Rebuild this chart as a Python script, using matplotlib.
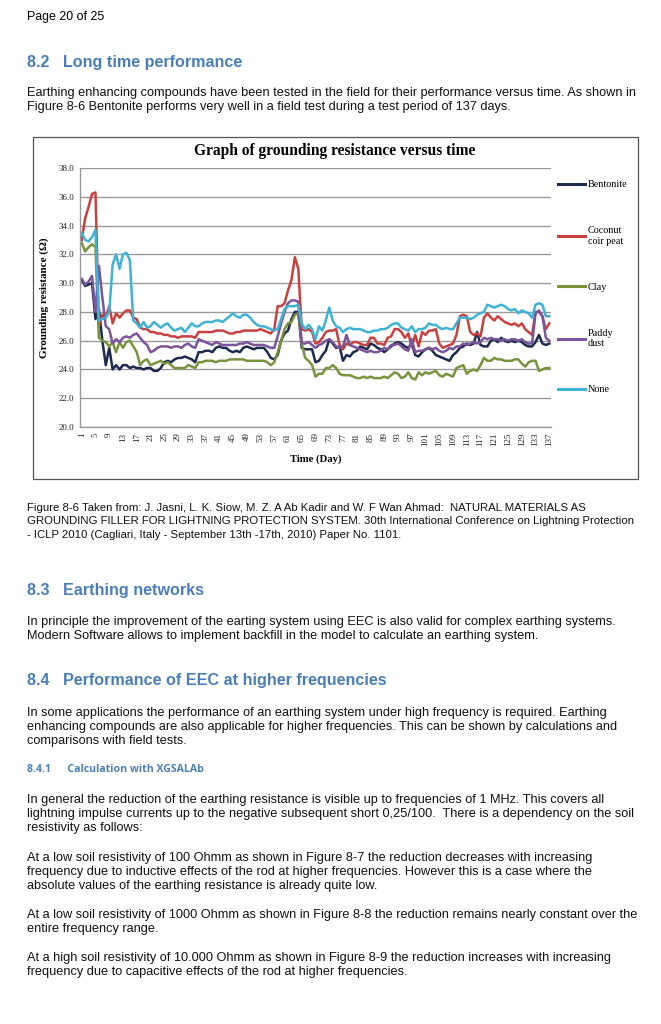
import matplotlib
matplotlib.use("Agg")
import matplotlib.pyplot as plt
from matplotlib.patches import Rectangle
import numpy as np

# grounding resistance (ohm), one value per day
bentonite = [
    30.2, 29.8, 29.9, 30.0, 27.5, 28.2, 26.0, 24.3, 25.5, 24.0,
    24.3, 24.0, 24.3, 24.3, 24.1, 24.2, 24.1, 24.1, 24.0, 24.1,
    24.1, 23.9, 23.9, 24.1, 24.5, 24.6, 24.5, 24.7, 24.8, 24.8,
    24.9, 24.8, 24.7, 24.5, 25.2, 25.2, 25.3, 25.3, 25.2, 25.5,
    25.6, 25.5, 25.5, 25.3, 25.2, 25.3, 25.2, 25.5, 25.6, 25.5,
    25.4, 25.5, 25.5, 25.5, 25.2, 24.8, 24.7, 25.0, 26.0, 26.5,
    26.7, 27.5, 28.0, 28.0, 25.5, 25.4, 25.4, 25.4, 24.5, 24.6,
    25.0, 25.3, 26.1, 25.8, 25.5, 25.6, 24.6, 25.0, 24.9, 25.2,
    25.3, 25.6, 25.5, 25.4, 25.8, 25.7, 25.5, 25.4, 25.2, 25.4,
    25.6, 25.8, 25.9, 25.8, 25.6, 25.5, 25.8, 25.0, 24.9, 25.2,
    25.4, 25.5, 25.3, 25.0, 24.9, 24.8, 24.7, 24.6, 25.0, 25.2,
    25.5, 25.6, 25.8, 25.7, 25.8, 26.6, 25.7, 25.6, 25.6, 26.0,
    26.1, 25.9, 26.2, 26.0, 25.9, 26.0, 25.9, 26.0, 25.9, 25.7,
    25.6, 25.6, 25.9, 26.4, 25.8, 25.7, 25.8]

coconut = [
    33.0, 34.5, 35.3, 36.2, 36.3, 27.0, 27.8, 27.6, 28.4, 27.2,
    27.9, 27.6, 27.9, 28.1, 28.1, 27.6, 27.5, 26.9, 26.8, 26.8,
    26.6, 26.6, 26.5, 26.5, 26.4, 26.4, 26.3, 26.3, 26.2, 26.3,
    26.3, 26.3, 26.3, 26.2, 26.6, 26.6, 26.6, 26.6, 26.6, 26.7,
    26.7, 26.7, 26.6, 26.5, 26.5, 26.6, 26.6, 26.7, 26.7, 26.7,
    26.7, 26.7, 26.8, 26.7, 26.6, 26.5, 26.8, 28.4, 28.4, 28.6,
    29.5, 30.2, 31.8, 31.0, 26.8, 26.7, 26.8, 26.6, 25.8, 25.9,
    26.2, 26.6, 26.7, 26.7, 26.8, 25.7, 25.4, 25.8, 25.7, 25.9,
    25.9, 25.8, 25.7, 25.7, 26.2, 26.2, 25.8, 25.8, 25.7, 26.2,
    26.3, 26.8, 26.8, 26.6, 26.2, 26.5, 25.6, 26.4, 25.6, 26.6,
    26.4, 26.7, 26.7, 26.8, 25.8, 25.5, 25.6, 25.7, 25.8, 26.4,
    27.7, 27.8, 27.7, 26.6, 26.4, 26.5, 26.3, 27.6, 27.9, 27.6,
    27.4, 27.7, 27.5, 27.3, 27.2, 27.1, 27.2, 27.0, 27.2, 26.8,
    26.6, 26.4, 28.0, 28.0, 27.7, 26.8, 27.2]

clay = [
    32.8, 32.2, 32.5, 32.7, 32.5, 26.2, 26.0, 25.9, 25.6, 25.9,
    25.2, 25.9, 25.5, 25.9, 26.0, 25.6, 25.2, 24.3, 24.6, 24.7,
    24.3, 24.4, 24.5, 24.6, 24.4, 24.5, 24.3, 24.1, 24.1, 24.1,
    24.1, 24.3, 24.2, 24.1, 24.5, 24.5, 24.6, 24.6, 24.6, 24.5,
    24.6, 24.6, 24.6, 24.7, 24.7, 24.7, 24.7, 24.7, 24.6, 24.6,
    24.6, 24.6, 24.6, 24.6, 24.5, 24.3, 24.5, 25.2, 26.0, 26.8,
    27.2, 27.3, 27.8, 27.9, 25.8, 24.8, 24.6, 24.3, 23.5, 23.7,
    23.7, 24.1, 24.1, 24.3, 24.1, 23.7, 23.6, 23.6, 23.6, 23.5,
    23.4, 23.4, 23.5, 23.4, 23.5, 23.4, 23.4, 23.4, 23.5, 23.4,
    23.6, 23.8, 23.7, 23.4, 23.5, 23.8, 23.4, 23.3, 23.8, 23.6,
    23.8, 23.7, 23.8, 23.9, 23.6, 23.5, 23.7, 23.6, 23.5, 24.1,
    24.2, 24.3, 23.7, 23.9, 24.0, 23.9, 24.3, 24.8, 24.6, 24.6,
    24.8, 24.7, 24.7, 24.6, 24.6, 24.6, 24.7, 24.7, 24.4, 24.2,
    24.5, 24.6, 24.6, 23.9, 24.0, 24.1, 24.1]

paddy = [
    30.3, 29.9, 30.1, 30.5, 28.0, 31.2, 29.0, 27.0, 26.8, 25.8,
    26.1, 25.9, 26.2, 26.3, 26.2, 26.4, 26.5, 26.2, 25.9, 25.7,
    25.2, 25.3, 25.5, 25.6, 25.6, 25.6, 25.5, 25.6, 25.6, 25.5,
    25.7, 25.8, 25.6, 25.5, 26.1, 26.0, 25.9, 25.8, 25.7, 25.9,
    25.8, 25.7, 25.7, 25.7, 25.7, 25.7, 25.8, 25.8, 25.9, 25.8,
    25.7, 25.7, 25.7, 25.7, 25.6, 25.5, 25.5, 26.3, 27.2, 28.0,
    28.6, 28.8, 28.8, 28.7, 25.8, 25.8, 25.9, 25.7, 25.5, 25.7,
    25.8, 26.0, 26.1, 25.9, 25.6, 25.5, 25.6, 26.4, 25.7, 25.6,
    25.5, 25.4, 25.3, 25.2, 25.3, 25.2, 25.2, 25.3, 25.5, 25.4,
    25.7, 25.7, 25.8, 25.6, 25.4, 25.3, 26.1, 25.2, 25.3, 25.3,
    25.4, 25.5, 25.4, 25.5, 25.3, 25.2, 25.3, 25.5, 25.4, 25.6,
    25.6, 25.8, 25.7, 25.8, 25.9, 25.8, 25.9, 26.2, 26.1, 26.2,
    26.1, 26.1, 26.0, 26.1, 26.0, 26.1, 26.1, 26.0, 26.1, 25.9,
    25.8, 25.8, 27.9, 28.1, 27.7, 26.2, 26.0]

none = [
    33.5, 33.0, 32.9, 33.2, 33.7, 27.4, 27.5, 27.6, 28.0, 31.3,
    32.0, 31.0, 32.0, 32.1, 31.6, 27.4, 27.2, 26.9, 27.3, 26.9,
    27.0, 27.3, 27.1, 26.9, 27.1, 27.2, 26.9, 26.7, 26.8, 26.9,
    26.6, 26.9, 27.2, 27.0, 27.0, 27.2, 27.3, 27.3, 27.3, 27.4,
    27.4, 27.3, 27.5, 27.7, 27.9, 27.7, 27.6, 27.8, 27.8, 27.6,
    27.3, 27.1, 27.0, 27.0, 26.9, 26.8, 26.7, 26.8, 27.5, 28.2,
    28.4, 28.4, 28.4, 28.5, 27.2, 26.8, 27.1, 26.8, 26.1, 27.0,
    26.7, 27.4, 28.3, 27.4, 27.0, 26.9, 26.6, 26.8, 26.9, 26.8,
    26.8, 26.8, 26.7, 26.6, 26.6, 26.7, 26.7, 26.8, 26.8, 26.9,
    27.1, 27.2, 27.2, 26.9, 26.8, 26.7, 27.0, 26.6, 26.8, 26.8,
    26.9, 27.2, 27.1, 27.1, 26.9, 26.8, 26.9, 26.8, 26.8, 27.2,
    27.6, 27.6, 27.6, 27.5, 27.6, 27.8, 27.9, 28.0, 28.5, 28.4,
    28.3, 28.4, 28.5, 28.4, 28.2, 28.1, 28.2, 27.9, 28.1, 28.0,
    27.9, 27.6, 28.5, 28.6, 28.5, 27.7, 27.7]

series_names = ["Bentonite", "Coconut\ncoir peat", "Clay", "Paddy\ndust", "None"]
series_colors = ["#1c2a4d", "#c8413f", "#77933c", "#7a559b", "#3fb3d4"]
y_ticks = np.arange(20.0, 38.1, 2.0)

days = np.arange(1, len(bentonite) + 1)

W, H = 661, 1024
fig = plt.figure(figsize=(W / 100, H / 100), dpi=100)


def fx(px):
    return px / W


def fy(px):
    return 1 - px / H


body = dict(family="Liberation Sans", fontsize=9.15, color="#111111", va="center")
head = dict(family="Liberation Sans", fontsize=11.6, fontweight="bold", color="#4a7ebb", va="center")


def para(lines, y0, step=14.2, **kw):
    style = dict(body, **kw)
    for i, t in enumerate(lines):
        fig.text(fx(27), fy(y0 + i * step), t, **style)


fig.text(fx(27), fy(17), "Page 20 of 25", family="Liberation Sans", fontsize=8.9, va="center")
fig.text(fx(27), fy(62), "8.2   Long time performance", **head)
para(["Earthing enhancing compounds have been tested in the field for their performance versus time. As shown in",
      "Figure 8-6 Bentonite performs very well in a field test during a test period of 137 days."], 93)

# chart frame
fig.patches.append(Rectangle((fx(33), fy(479)), fx(605), 342 / H, transform=fig.transFigure,
                             fill=False, ec="#555555", lw=0.9))
fig.text(fx(335), fy(151), "Graph of grounding resistance versus time", family="Liberation Serif",
         fontweight="bold", fontsize=11.2, ha="center", va="center")

ax = fig.add_axes([fx(80), fy(427), fx(471), 259 / H])
data = [bentonite, coconut, clay, paddy, none]
for vals, name, col in zip(data, series_names, series_colors):
    ax.plot(days, vals, color=col, lw=1.8, label=name, solid_joinstyle="round")

ax.set_xlim(0.5, len(days) + 0.5)
ax.set_ylim(20, 38)
ax.set_yticks(y_ticks)
ax.set_yticklabels([f"{v:.1f}" for v in y_ticks], family="Liberation Serif", fontsize=6.5)
ax.set_xticks(days[::4])
ax.set_xticklabels([str(d) for d in days[::4]], rotation=90, family="Liberation Serif", fontsize=6.5)
ax.tick_params(axis="both", length=0, pad=4, colors="#222222")
ax.grid(axis="y", color="#9a9a9a", lw=1.0)
ax.set_axisbelow(True)
for s in ["top", "right"]:
    ax.spines[s].set_visible(False)
for s in ["left", "bottom"]:
    ax.spines[s].set_color("#9a9a9a")
    ax.spines[s].set_linewidth(1.0)
ax.set_xlabel("Time (Day)", family="Liberation Serif", fontweight="bold", fontsize=7.7, labelpad=6)
ax.set_ylabel("Grounding resistance (Ω)", family="Liberation Serif", fontweight="bold", fontsize=8,
              labelpad=7)

leg = ax.legend(loc="upper left", bbox_to_anchor=(1.0, 0.98), frameon=False,
                prop=dict(family="Liberation Serif", size=7.3), handlelength=2.7,
                handletextpad=0.2, labelspacing=3.65, borderaxespad=0.3)
for line in leg.get_lines():
    line.set_linewidth(2.2)

para(["Figure 8-6 Taken from: J. Jasni, L. K. Siow, M. Z. A Ab Kadir and W. F Wan Ahmad:  NATURAL MATERIALS AS",
      "GROUNDING FILLER FOR LIGHTNING PROTECTION SYSTEM. 30th International Conference on Lightning Protection",
      "- ICLP 2010 (Cagliari, Italy - September 13th -17th, 2010) Paper No. 1101."], 508, step=13.5,
     fontsize=8.2)

fig.text(fx(27), fy(591), "8.3   Earthing networks", **head)
para(["In principle the improvement of the earting system using EEC is also valid for complex earthing systems.",
      "Modern Software allows to implement backfill in the model to calculate an earthing system."], 622)

fig.text(fx(27), fy(681), "8.4   Performance of EEC at higher frequencies", **head)
para(["In some applications the performance of an earthing system under high frequency is required. Earthing",
      "enhancing compounds are also applicable for higher frequencies. This can be shown by calculations and",
      "comparisons with field tests."], 713)

fig.text(fx(27), fy(770), "8.4.1      Calculation with XGSALAb", family="Open Sans", fontweight="bold",
         fontsize=7.6, color="#4a7ebb", va="center")
para(["In general the reduction of the earthing resistance is visible up to frequencies of 1 MHz. This covers all",
      "lightning impulse currents up to the negative subsequent short 0,25/100.  There is a dependency on the soil",
      "resistivity as follows:"], 800)
para(["At a low soil resistivity of 100 Ohmm as shown in Figure 8-7 the reduction decreases with increasing",
      "frequency due to inductive effects of the rod at higher frequencies. However this is a case where the",
      "absolute values of the earthing resistance is already quite low."], 858)
para(["At a low soil resistivity of 1000 Ohmm as shown in Figure 8-8 the reduction remains nearly constant over the",
      "entire frequency range."], 915)
para(["At a high soil resistivity of 10.000 Ohmm as shown in Figure 8-9 the reduction increases with increasing",
      "frequency due to capacitive effects of the rod at higher frequencies."], 958)

fig.savefig("out.png", dpi=100)
